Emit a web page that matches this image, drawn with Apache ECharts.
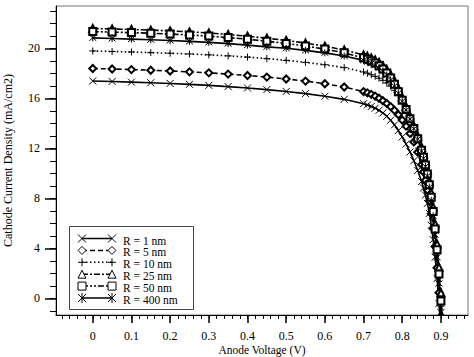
<!DOCTYPE html>
<html>
<head>
<meta charset="utf-8">
<script src="https://cdn.jsdelivr.net/npm/echarts@6/dist/echarts.min.js"></script>
<style>
html,body{margin:0;padding:0;background:#fff;}
#chart{width:474px;height:357px;}
</style>
</head>
<body>
<div id="chart"></div>
<script>
// ---- data ----
const voltage = [0,0.05,0.1,0.15,0.2,0.25,0.3,0.35,0.4,0.45,0.5,0.55,0.6,0.65,
  0.7,0.71,0.72,0.73,0.74,0.75,0.76,0.77,0.78,0.79,0.8,0.81,0.82,0.83,0.84,0.85,
  0.855,0.86,0.865,0.87,0.875,0.88,0.885,0.89,0.895,0.9,0.905];

const jR1 = [17.4,17.36,17.31,17.26,17.2,17.13,17.05,16.95,16.84,16.71,16.56,16.39,16.18,15.93,
  15.58,15.48,15.36,15.22,15.05,14.84,14.58,14.26,13.88,13.43,12.92,12.35,11.72,11.02,10.24,9.35,
  8.84,8.27,7.6,6.8,5.85,4.7,3.3,1.6,-0.4,-2.7,-5.1];
const jR5 = [18.4,18.36,18.31,18.26,18.2,18.13,18.05,17.95,17.84,17.71,17.56,17.39,17.18,16.92,
  16.55,16.45,16.33,16.19,16.02,15.82,15.6,15.35,15.05,14.7,14.27,13.78,13.2,12.52,11.7,10.7,
  10.12,9.45,8.68,7.8,6.78,5.58,4.15,2.45,0.45,-1.85,-4.3];
const jR10 = [19.8,19.76,19.72,19.67,19.62,19.56,19.49,19.41,19.31,19.19,19.05,18.89,18.7,18.47,
  18.12,18.02,17.9,17.77,17.62,17.45,17.24,16.98,16.65,16.23,15.72,15.12,14.45,13.72,12.92,12.0,
  11.45,10.83,10.1,9.24,8.22,7.0,5.55,3.78,1.7,-0.62,-3.1];
const jR25 = [21.6,21.56,21.52,21.47,21.41,21.33,21.24,21.12,20.98,20.82,20.64,20.43,20.18,19.88,
  19.48,19.37,19.24,19.08,18.88,18.62,18.3,17.9,17.4,16.8,16.1,15.35,14.6,13.8,13.0,12.1,
  11.55,10.95,10.25,9.4,8.45,7.3,5.95,4.35,2.5,0.45,-1.8];
const jR50 = [21.35,21.31,21.27,21.22,21.16,21.08,20.99,20.87,20.74,20.58,20.4,20.2,19.95,19.65,
  19.25,19.13,19.0,18.83,18.62,18.36,18.03,17.63,17.13,16.53,15.85,15.12,14.38,13.6,12.78,11.85,
  11.3,10.68,9.95,9.1,8.1,6.95,5.55,3.9,1.95,-0.2,-2.6];
const jR400 = [20.85,20.8,20.75,20.7,20.64,20.57,20.49,20.39,20.27,20.13,20.02,19.85,19.65,19.4,
  19.05,18.94,18.81,18.65,18.45,18.2,17.88,17.49,17.0,16.43,15.78,15.08,14.35,13.58,12.75,11.8,
  11.22,10.57,9.8,8.9,7.85,6.6,5.1,3.3,1.2,-1.1,-3.5];

const seriesNames = ['R = 1 nm','R = 5 nm','R = 10 nm','R = 25 nm','R = 50 nm','R = 400 nm'];
const seriesValues = [jR1, jR5, jR10, jR25, jR50, jR400];

const xTickLabels = [0,0.1,0.2,0.3,0.4,0.5,0.6,0.7,0.8,0.9];
const xMinorTicks = [-0.08,-0.06,-0.04,-0.02,0,0.02,0.04,0.06,0.08,0.1,0.12,0.14,0.16,0.18,0.2,0.22,0.24,0.26,0.28,0.3,
  0.32,0.34,0.36,0.38,0.4,0.42,0.44,0.46,0.48,0.5,0.52,0.54,0.56,0.58,0.6,0.62,0.64,0.66,0.68,0.7,
  0.72,0.74,0.76,0.78,0.8,0.82,0.84,0.86,0.88,0.9,0.92,0.94,0.96];
const yTickLabels = [0,4,8,12,16,20];
const yMinorTicks = [-1,0,1,2,3,4,5,6,7,8,9,10,11,12,13,14,15,16,17,18,19,20,21,22,23];

// ---- styles ----
const FONT = 'Liberation Serif';
const symbolKinds = ['cross','diamond','plus','triangle','rect','asterisk'];
const symbolDefs = {
  cross: 'path://M0,0L10,10M10,0L0,10',
  diamond: 'emptyDiamond',
  plus: 'path://M5,0L5,10M0,5L10,5',
  triangle: 'emptyTriangle',
  rect: 'emptyRect',
  asterisk: 'path://M0,0L10,10M10,0L0,10M5,-1L5,11'
};
const dashes = ['solid',[5,3],[1.5,2.5],[6,2,2,2],[6,2,2,2,2,2],'solid'];

const series = seriesNames.map((name, i) => ({
  name: name,
  type: 'line',
  data: voltage.map((v, k) => [v, seriesValues[i][k]]),
  symbol: symbolDefs[symbolKinds[i]],
  symbolSize: 7,
  showAllSymbol: true,
  clip: true,
  lineStyle: {color: '#000', width: 1.6, type: dashes[i]},
  itemStyle: {color: '#000', borderColor: '#000', borderWidth: 1},
  z: 3
}));

// legend drawn as graphic
function symbolGraphic(kind, cx, cy, s) {
  const h = s / 2;
  const st = {stroke: '#000', lineWidth: 1, fill: '#fff'};
  const ln = (x1,y1,x2,y2) => ({type:'line', shape:{x1,y1,x2,y2}, style:{stroke:'#000', lineWidth:1}});
  switch (kind) {
    case 'cross': return [ln(cx-h,cy-h,cx+h,cy+h), ln(cx+h,cy-h,cx-h,cy+h)];
    case 'plus': return [ln(cx,cy-h,cx,cy+h), ln(cx-h,cy,cx+h,cy)];
    case 'asterisk': return [ln(cx-h,cy-h,cx+h,cy+h), ln(cx+h,cy-h,cx-h,cy+h), ln(cx,cy-h-1,cx,cy+h+1)];
    case 'diamond': return [{type:'polygon', shape:{points:[[cx,cy-h],[cx+h,cy],[cx,cy+h],[cx-h,cy]]}, style:st}];
    case 'triangle': return [{type:'polygon', shape:{points:[[cx,cy-h],[cx+h,cy+h],[cx-h,cy+h]]}, style:st}];
    case 'rect': return [{type:'rect', shape:{x:cx-h, y:cy-h, width:s, height:s}, style:st}];
  }
  return [];
}
const legendEls = [{type:'rect', shape:{x:69.5, y:226.5, width:124, height:83}, style:{stroke:'#444', lineWidth:1, fill:'#fff'}}];
seriesNames.forEach((name, i) => {
  const cy = 238.5 + i * 11.9;
  const d = dashes[i];
  legendEls.push({type:'line', shape:{x1:82, y1:cy, x2:112, y2:cy},
    style:{stroke:'#000', lineWidth:1.5, lineDash: d === 'solid' ? null : d}});
  symbolGraphic(symbolKinds[i], 82, cy, 8).forEach(e => legendEls.push(e));
  symbolGraphic(symbolKinds[i], 112, cy, 8).forEach(e => legendEls.push(e));
  legendEls.push({type:'text', x:123, y:cy + 2, style:{text:name, fill:'#000', fontFamily: FONT, fontSize: 11.5, verticalAlign:'middle', align:'left'}});
});

const axisText = {color:'#000', fontFamily: FONT, fontSize: 12};
const chart = echarts.init(document.getElementById('chart'), null, {renderer:'svg'});
chart.setOption({
  animation: false,
  backgroundColor: '#fff',
  textStyle: {fontFamily: FONT},
  grid: {left: 56, right: 6, top: 6, bottom: 42, show: true, borderColor: '#777', borderWidth: 1,
         containLabel: false, outerBoundsMode: 'none'},
  xAxis: [{
    type: 'value', min: -0.095, max: 0.97, position: 'bottom',
    name: 'Anode Voltage (V)', nameLocation: 'middle', nameGap: 29, nameMoveOverlap: false,
    nameTextStyle: {color:'#000', fontFamily: FONT, fontSize: 11.5},
    axisLine: {show: true, onZero: false, lineStyle: {color:'#000', width: 1}},
    axisTick: {show: true, customValues: xTickLabels, length: 8, lineStyle:{color:'#000', width: 1.5}},
    axisLabel: Object.assign({customValues: xTickLabels, margin: 15, formatter: v => String(Math.round(v*10)/10)}, axisText),
    splitLine: {show: false}
  }, {
    type: 'value', min: -0.095, max: 0.97, position: 'bottom', offset: 0,
    axisLine: {show: false, onZero: false},
    axisTick: {show: true, customValues: xMinorTicks, length: 4, lineStyle:{color:'#000', width: 1}},
    axisLabel: {show: false},
    splitLine: {show: false}
  }],
  yAxis: [{
    type: 'value', min: -1.33, max: 23.4, position: 'left',
    name: 'Cathode Current Density (mA/cm2)', nameLocation: 'middle', nameGap: 42,
    nameTextStyle: {color:'#000', fontFamily: FONT, fontSize: 12},
    axisLine: {show: true, onZero: false, lineStyle: {color:'#000', width: 1}},
    axisTick: {show: true, customValues: yTickLabels, length: 11, lineStyle:{color:'#000', width: 1.5}},
    axisLabel: Object.assign({customValues: yTickLabels, margin: 16}, axisText),
    splitLine: {show: false}
  }, {
    type: 'value', min: -1.33, max: 23.4, position: 'left', offset: 0,
    axisLine: {show: false, onZero: false},
    axisTick: {show: true, customValues: yMinorTicks, length: 6, lineStyle:{color:'#000', width: 1}},
    axisLabel: {show: false},
    splitLine: {show: false}
  }],
  series: series,
  graphic: [{type:'group', z: 100, children: legendEls}]
});
</script>
</body>
</html>
